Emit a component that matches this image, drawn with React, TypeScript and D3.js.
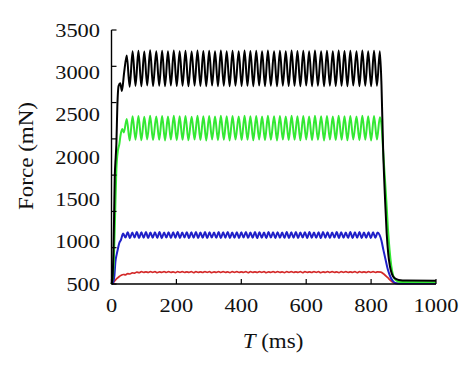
import React from 'react';
import * as d3 from 'd3';

// time axis (ms) and force axis (mN) labels
const xTicks = [0, 200, 400, 600, 800, 1000];
const yLabels = [500, 1000, 1500, 2000, 2500, 3000, 3500];
// tick marks on the force axis sit on their own spacing in the source figure
const yTickMarks = [500, 929, 1357, 1786, 2214, 2643, 3071, 3500];

// peak / trough times of the black and green trains
const fastT = [
  47, 56, 65, 74, 83, 92, 101, 110, 119, 128,
  138, 147, 156, 165, 174, 183, 192, 201, 210, 219,
  228, 237, 247, 256, 265, 274, 283, 292, 301, 310,
  319, 328, 337, 346, 355, 364, 373, 382, 392, 401,
  410, 419, 428, 437, 446, 455, 464, 473, 482, 491,
  501, 510, 519, 528, 537, 546, 555, 564, 573, 582,
  591, 600, 609, 618, 627, 636, 646, 655, 664, 673,
  682, 691, 700, 709, 718, 727, 736, 745, 755, 764,
  773, 782, 791, 800, 809, 818, 827,
];
const blackOsc = [
  3200, 2830, 3250, 2840, 3255, 2835, 3245, 2845, 3260, 2838,
  3250, 2842, 3255, 2836, 3248, 2844, 3258, 2838, 3250, 2841,
  3256, 2835, 3247, 2843, 3259, 2839, 3251, 2836, 3254, 2844,
  3249, 2837, 3257, 2842, 3250, 2835, 3256, 2843, 3248, 2838,
  3258, 2841, 3251, 2836, 3255, 2844, 3249, 2837, 3257, 2842,
  3250, 2835, 3256, 2843, 3248, 2838, 3258, 2841, 3251, 2836,
  3255, 2844, 3249, 2837, 3257, 2842, 3250, 2835, 3256, 2843,
  3248, 2838, 3258, 2841, 3251, 2836, 3255, 2844, 3249, 2837,
  3257, 2842, 3250, 2835, 3256, 2843, 3250,
];
const greenOsc = [
  2450, 2195, 2480, 2205, 2485, 2198, 2476, 2208, 2488, 2200,
  2479, 2204, 2484, 2196, 2477, 2207, 2487, 2199, 2480, 2203,
  2485, 2197, 2476, 2206, 2488, 2201, 2481, 2195, 2484, 2207,
  2478, 2199, 2486, 2204, 2480, 2196, 2485, 2206, 2477, 2200,
  2487, 2203, 2481, 2197, 2484, 2207, 2478, 2199, 2486, 2204,
  2480, 2196, 2485, 2206, 2477, 2200, 2487, 2203, 2481, 2197,
  2484, 2207, 2478, 2199, 2486, 2204, 2480, 2196, 2485, 2206,
  2477, 2200, 2487, 2203, 2481, 2197, 2484, 2207, 2478, 2199,
  2486, 2204, 2480, 2196, 2485, 2206, 2470,
];

// peak / trough times of the blue and red trains
const slowT = [
  36, 43, 50, 57, 64, 71, 78, 85, 92, 99,
  106, 113, 120, 127, 134, 141, 148, 155, 162, 169,
  176, 183, 190, 197, 204, 211, 218, 225, 232, 239,
  246, 253, 260, 267, 274, 281, 288, 295, 302, 309,
  316, 323, 330, 337, 344, 351, 358, 365, 372, 379,
  386, 393, 400, 407, 414, 421, 428, 435, 442, 449,
  456, 463, 470, 477, 484, 491, 498, 505, 512, 519,
  526, 533, 540, 547, 554, 561, 568, 575, 582, 589,
  596, 603, 610, 617, 624, 631, 638, 645, 652, 659,
  666, 673, 680, 687, 694, 701, 708, 715, 722, 729,
  736, 743, 750, 757, 764, 771, 778, 785, 792, 799,
  806, 813, 820,
];
const blueOsc = [
  1095, 1048, 1112, 1042, 1108, 1050, 1115, 1044, 1110, 1046,
  1113, 1043, 1108, 1047, 1111, 1045, 1114, 1041, 1109, 1048,
  1112, 1044, 1110, 1046, 1115, 1043, 1108, 1049, 1112, 1042,
  1110, 1047, 1113, 1044, 1109, 1046, 1114, 1043, 1111, 1048,
  1108, 1045, 1113, 1042, 1110, 1047, 1115, 1044, 1109, 1046,
  1112, 1043, 1110, 1048, 1114, 1045, 1108, 1047, 1113, 1042,
  1111, 1046, 1109, 1044, 1115, 1048, 1110, 1043, 1112, 1046,
  1108, 1045, 1114, 1042, 1110, 1047, 1113, 1044, 1109, 1048,
  1112, 1043, 1115, 1046, 1108, 1045, 1111, 1042, 1114, 1047,
  1110, 1044, 1109, 1048, 1113, 1043, 1112, 1046, 1108, 1045,
  1114, 1042, 1110, 1047, 1113, 1044, 1109, 1046, 1112, 1043,
  1110, 1047, 1108,
];
const redOsc = [
  612, 608, 622, 618, 632, 628, 640, 634, 645, 637,
  644, 636, 646, 637, 645, 635, 644, 637, 646, 636,
  645, 637, 644, 635, 646, 637, 645, 636, 644, 637,
  646, 635, 645, 637, 644, 636, 646, 637, 645, 635,
  644, 637, 646, 636, 645, 637, 644, 635, 646, 637,
  645, 636, 644, 637, 646, 635, 645, 637, 644, 636,
  646, 637, 645, 635, 644, 637, 646, 636, 645, 637,
  644, 635, 646, 637, 645, 636, 644, 637, 646, 635,
  645, 637, 644, 636, 646, 637, 645, 635, 644, 637,
  646, 636, 645, 637, 644, 635, 646, 637, 645, 636,
  644, 637, 646, 635, 645, 637, 644, 636, 646, 637,
  645, 636, 644,
];

// onset and relaxation segments [ms, mN]
const blackRise = [[0, 500], [3, 560], [6, 900], [8, 1300], [10, 1760], [13, 2000], [15, 2150], [18, 2600], [22, 2840], [27, 2870], [32, 2780], [39, 3000]];
const blackFall = [[832, 2850], [837, 2100], [843, 1500], [848, 1100], [853, 850], [858, 710], [864, 620], [872, 570], [885, 548], [910, 540], [1000, 538]];
const greenRise = [[0, 500], [4, 580], [7, 750], [11, 1300], [15, 1850], [20, 2080], [24, 2150], [28, 2260], [33, 2330], [38, 2290]];
const greenFall = [[832, 2380], [837, 2080], [842, 1780], [847, 1480], [852, 1150], [857, 900], [862, 720], [868, 600], [876, 545], [890, 525], [1000, 522]];
const blueRise = [[0, 500], [5, 520], [9, 600], [12, 760], [16, 850], [20, 920], [24, 985], [29, 1020]];
const blueFall = [[826, 1080], [832, 1010], [838, 900], [845, 780], [852, 665], [860, 580], [868, 530], [876, 510], [890, 505], [1000, 505]];
const redRise = [[0, 500], [6, 520], [12, 545], [18, 568], [24, 588], [30, 602]];
const redFall = [[830, 640], [840, 615], [850, 580], [858, 550], [865, 525], [872, 510], [885, 505], [1000, 505]];

const join = (rise: number[][], t: number[], f: number[], fall: number[][]) =>
  [...rise, ...t.map((d, i) => [d, f[i]]), ...fall];

const series = [
  { key: 'red', color: '#d42a2a', width: 1.7, pts: join(redRise, slowT, redOsc, redFall) },
  { key: 'blue', color: '#2020c8', width: 2, pts: join(blueRise, slowT, blueOsc, blueFall) },
  { key: 'green', color: '#33e833', width: 2, pts: join(greenRise, fastT, greenOsc, greenFall) },
  { key: 'black', color: '#000000', width: 2, pts: join(blackRise, fastT, blackOsc, blackFall) },
];

const App: React.FC = () => {
  const width = 474;
  const height = 372;
  const x = d3.scaleLinear().domain([0, 1000]).range([111.5, 436]);
  const y = d3.scaleLinear().domain([500, 3500]).range([284, 30]);

  const line = d3.line<number[]>()
    .x(d => x(d[0]))
    .y(d => y(d[1]))
    .curve(d3.curveMonotoneX);

  const font = '"Liberation Serif", "Times New Roman", serif';
  const stretch = 1.15;

  return (
    <svg width={width} height={height} style={{ position: 'absolute', left: 0, top: 0, background: '#fff' }}>
      {series.map(s => (
        <path key={s.key} d={line(s.pts) || ''} fill="none" stroke={s.color} strokeWidth={s.width} strokeLinejoin="round" />
      ))}

      {/* axes */}
      <line x1={x(0)} y1={y(500)} x2={x(0)} y2={y(3500)} stroke="#000" strokeWidth="1.4" />
      <line x1={x(0)} y1={y(500)} x2={x(1000)} y2={y(500)} stroke="#000" strokeWidth="1.4" />
      {yTickMarks.map(v => (
        <line key={v} x1={x(0)} x2={x(0) + 5} y1={y(v)} y2={y(v)} stroke="#000" strokeWidth="1.2" />
      ))}
      {xTicks.map(t => (
        <line key={t} x1={x(t)} x2={x(t)} y1={y(500)} y2={y(500) - 5} stroke="#000" strokeWidth="1.2" />
      ))}

      {/* tick labels */}
      {yLabels.map(v => (
        <text key={v} transform={`translate(100, ${y(v) + 6.5}) scale(${stretch}, 1)`} textAnchor="end" fontFamily={font} fontSize="19.5" fill="#111">
          {v}
        </text>
      ))}
      {xTicks.map(t => (
        <text key={t} transform={`translate(${x(t)}, 311.5) scale(${stretch}, 1)`} textAnchor="middle" fontFamily={font} fontSize="19.5" fill="#111">
          {t}
        </text>
      ))}

      {/* axis titles */}
      <text transform={`translate(273, 348) scale(${stretch}, 1)`} textAnchor="middle" fontFamily={font} fontSize="20" fill="#111">
        <tspan fontStyle="italic">T</tspan> (ms)
      </text>
      <text transform={`translate(33, 156) rotate(-90) scale(${stretch}, 1)`} textAnchor="middle" fontFamily={font} fontSize="20" fill="#111">
        Force (mN)
      </text>
    </svg>
  );
};

export default App;
